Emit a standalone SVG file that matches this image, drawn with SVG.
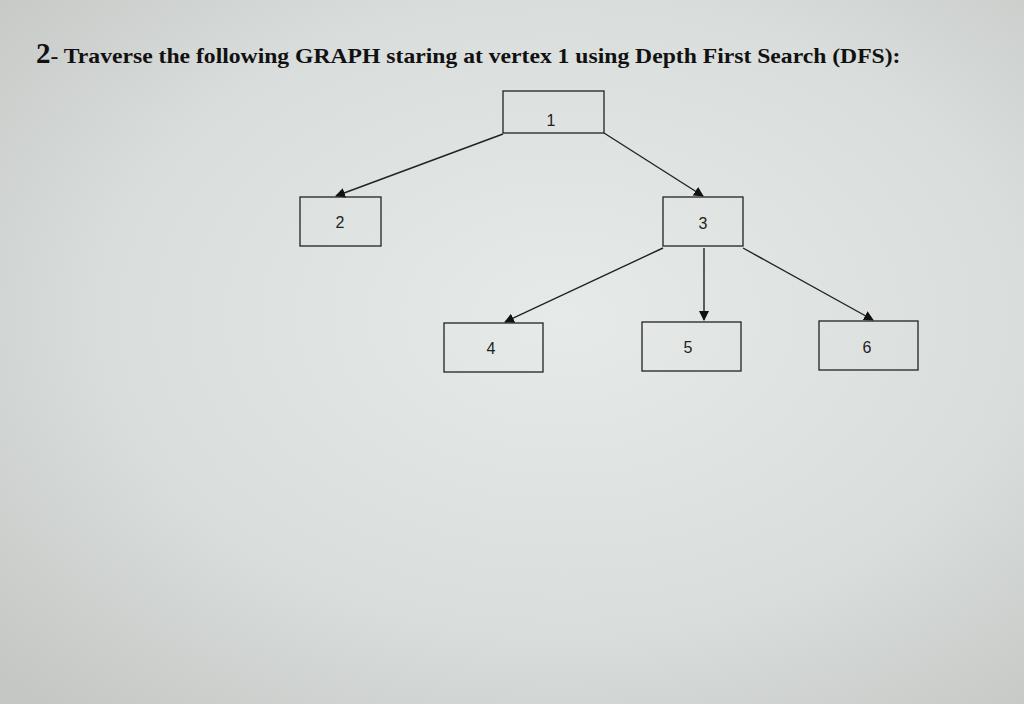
<svg xmlns="http://www.w3.org/2000/svg" width="1024" height="704" viewBox="0 0 1024 704">
<defs>
<radialGradient id="bg" cx="0.55" cy="0.45" r="0.75">
<stop offset="0" stop-color="#e6ebe9"/><stop offset="0.6" stop-color="#d9dddb"/><stop offset="1" stop-color="#c4c7c4"/>
</radialGradient>
<marker id="ah" viewBox="0 0 10 10" refX="9" refY="5" markerWidth="10" markerHeight="10" orient="auto" markerUnits="userSpaceOnUse"><path d="M0,0L10,5L0,10z" fill="#111"/></marker>
<style>
.n rect{fill:none;stroke:#222;stroke-width:1.3}
.n text{font-family:"Liberation Sans",sans-serif;font-size:16px;fill:#222;text-anchor:middle}
#edges line{stroke:#222;stroke-width:1.4;marker-end:url(#ah)}
</style>
</defs>
<rect width="1024" height="704" fill="url(#bg)"/>
<text x="36" y="63" font-family="Liberation Serif,serif" font-weight="bold" fill="#111"><tspan font-size="29">2</tspan><tspan font-size="22" textLength="850" lengthAdjust="spacingAndGlyphs">- Traverse the following GRAPH staring at vertex 1 using Depth First Search (DFS):</tspan></text>
<g id="edges">
<line x1="503" y1="134" x2="336" y2="196"/>
<line x1="604" y1="133" x2="703" y2="196"/>
<line x1="663" y1="248" x2="505" y2="322"/>
<line x1="704" y1="248" x2="704" y2="320"/>
<line x1="743" y1="248" x2="873" y2="320"/>
</g>
<g id="n1" class="n"><rect x="503" y="91" width="101" height="42"/><text x="551" y="126">1</text></g>
<g id="n2" class="n"><rect x="300" y="197" width="81" height="49"/><text x="340" y="228">2</text></g>
<g id="n3" class="n"><rect x="663" y="197" width="80" height="49"/><text x="703" y="229">3</text></g>
<g id="n4" class="n"><rect x="444" y="323" width="99" height="49"/><text x="491" y="354">4</text></g>
<g id="n5" class="n"><rect x="642" y="322" width="99" height="49"/><text x="688" y="353">5</text></g>
<g id="n6" class="n"><rect x="819" y="321" width="99" height="49"/><text x="867" y="353">6</text></g>
</svg>
